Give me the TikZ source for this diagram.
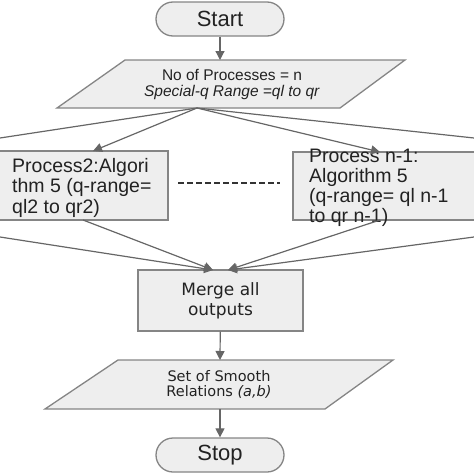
\documentclass[tikz,border=0pt]{standalone}
\usepackage{fontspec}
\setmainfont{Liberation Sans}
\newfontfamily\dejavu{DejaVu Sans}
\usetikzlibrary{arrows.meta}
\definecolor{boxfill}{HTML}{EEEEEE}
\definecolor{boxline}{HTML}{858585}
\definecolor{connc}{HTML}{666666}
\definecolor{txt}{HTML}{222222}
\begin{document}
\begin{tikzpicture}[x=1pt,y=-1pt,
  shapeline/.style={draw=boxline, fill=boxfill, line width=1.3pt},
  term/.style={shapeline, rounded corners=17pt, minimum width=128pt, minimum height=34pt, font=\fontsize{22}{24}\selectfont, text=txt, inner sep=0pt},
  procbox/.style={shapeline, rectangle, inner sep=0pt},
  ptext/.style={font=\fontsize{19.5}{20.5}\selectfont, text=txt, align=left, inner sep=0pt},
  iotext/.style={font=\fontsize{15.5}{16}\selectfont, text=txt, align=center, inner sep=0pt},
  arrowline/.style={draw=connc, line width=1.2pt, -{Triangle[length=9pt,width=9pt]}},
  bareline/.style={draw=connc, line width=1.2pt},
  dotsline/.style={draw=black!80, line width=2pt, dash pattern=on 6pt off 3pt}
]
\useasboundingbox (0,0) rectangle (474,474);
\clip (0,0) rectangle (474,474);

% Start
\node[term] (start) at (220,19) {Start};

% Input parallelogram
\coordinate (p1tl) at (125,60);
\coordinate (p1tr) at (405,60);
\coordinate (p1br) at (340,108);
\coordinate (p1bl) at (57,108);
\coordinate (p1in) at (220,60);
\coordinate (p1out) at (197,108);
\draw[shapeline] (p1tl) -- (p1tr) -- (p1br) -- (p1bl) -- cycle;
\node[iotext] (p1) at (232,84) {No of Processes = n\\\textit{Special-q Range =ql to qr}};
\draw[arrowline] (start) -- (p1in);

% Process boxes
\node[procbox, minimum width=190pt, minimum height=69pt] (p2) at (73,185.5) {};
\node[ptext, anchor=west] (p2t) at (12,187.5) {Process2:Algori\\thm 5 (q-range=\\ql2 to qr2)};
\node[procbox, minimum width=201pt, minimum height=68pt] (pn) at (393.5,186) {};
\node[ptext, anchor=west, font=\fontsize{19.5}{20}\selectfont] (pnt) at (309,188) {Process n-1:\\Algorithm 5\\(q-range= ql n-1\\to qr n-1)};

\coordinate (dashA) at (178,183);
\coordinate (dashB) at (280,183);
\draw[dotsline] (dashA) -- (dashB);

% Fan out
\coordinate (offL1) at (0,138);
\coordinate (offR1) at (474,138);
\coordinate (p2in) at (93,151);
\coordinate (pnin) at (380,152);
\draw[bareline] (p1out) -- (offL1);
\draw[arrowline] (p1out) -- (p2in);
\draw[arrowline] (p1out) -- (pnin);
\draw[bareline] (p1out) -- (offR1);

% Merge
\node[procbox, minimum width=165pt, minimum height=61pt, font=\dejavu\fontsize{17}{20}\selectfont, align=center, text=txt] (merge) at (220.5,300.5) {Merge all\\outputs};

\coordinate (p2out) at (83,220);
\coordinate (pnout) at (380,220);
\coordinate (offL2) at (0,237);
\coordinate (offR2) at (474,237);
\coordinate (mL) at (213,270);
\coordinate (mR) at (228,270);
\draw[arrowline] (offL2) -- (mL);
\draw[arrowline] (p2out) -- (mL);
\draw[arrowline] (offR2) -- (mR);
\draw[arrowline] (pnout) -- (mR);

% Output parallelogram
\coordinate (p4tl) at (118,360);
\coordinate (p4tr) at (393,360);
\coordinate (p4br) at (325,409);
\coordinate (p4bl) at (45,409);
\coordinate (p4in) at (220,360);
\coordinate (p4out) at (220,409);
\draw[shapeline] (p4tl) -- (p4tr) -- (p4br) -- (p4bl) -- cycle;
\node[iotext, font=\dejavu\fontsize{14.5}{15}\selectfont] (p4) at (219,384.5) {Set of Smooth\\Relations \textit{(a,b)}};
\draw[arrowline] (merge) -- (p4in);

% Stop
\node[term] (stop) at (220,455) {Stop};
\draw[arrowline] (p4out) -- (stop);
\end{tikzpicture}
\end{document}
